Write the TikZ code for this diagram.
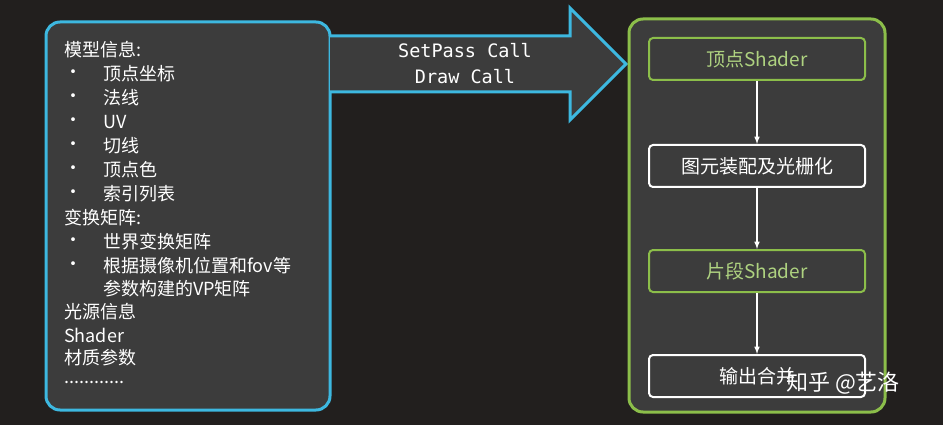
\documentclass[tikz,border=0pt]{standalone}
\usepackage{fontspec}
\setmainfont{Noto Sans CJK SC}
\setmonofont{DejaVu Sans Mono}
\usetikzlibrary{positioning}
\definecolor{bg}{HTML}{221F1E}
\definecolor{boxfill}{HTML}{3C3C3C}
\definecolor{cyanline}{HTML}{3DB8E0}
\definecolor{greenline}{HTML}{8CBE4A}
\tikzset{
  stage/.style={draw=white, line width=2pt, rounded corners=4pt, fill=boxfill,
    minimum width=216pt, minimum height=42pt, text=white, font=\fontsize{19}{22}\selectfont},
  shaderstage/.style={stage, draw=greenline, text=greenline!70!white},
  flow/.style={->, >=latex, draw=white, line width=1.5pt},
  info/.style={anchor=west, text=white, inner sep=0pt, font=\fontsize{18}{20}\selectfont}
}
\begin{document}
\begin{tikzpicture}[x=1pt,y=-1pt]
  \fill[bg] (0,0) rectangle (943,425);
  \useasboundingbox (0,0) rectangle (943,425);
  % left box
  \draw[cyanline, line width=3pt, fill=boxfill, rounded corners=14pt] (46,22) rectangle (330,410);
  % big arrow
  \draw[cyanline, line width=3pt, fill=boxfill, line join=miter]
    (330,36) -- (570,36) -- (570,8) -- (626,64) -- (570,120) -- (570,92) -- (330,92);
  \node[text=white, font=\ttfamily\fontsize{18.5}{26}\selectfont, align=center] (calls) at (465,64) {SetPass Call\\Draw Call};
  % right box
  \draw[greenline, line width=3pt, fill=boxfill, rounded corners=14pt] (629,19) rectangle (885,412);
  \node[shaderstage] (vs) at (757,59) {顶点Shader};
  \node[stage] (raster) at (757,166) {图元装配及光栅化};
  \node[shaderstage] (fs) at (757,271) {片段Shader};
  \node[stage] (merge) at (757,376) {输出合并};
  \draw[flow] (vs) -- (raster);
  \draw[flow] (raster) -- (fs);
  \draw[flow] (fs) -- (merge);
  % left text
  \node[info] (model) at (64,50) {模型信息:};
  \foreach \txt [count=\i] in {顶点坐标, 法线, UV, 切线, 顶点色, 索引列表}
    {\node[info] (b\i) at (64,{50+24*\i}) {•};
     \node[info] (t\i) at (103,{50+24*\i}) {\txt};}
  \node[info] (xform) at (64,218) {变换矩阵:};
  \node[info] (b7) at (64,242) {•};
  \node[info] (t7) at (103,242) {世界变换矩阵};
  \node[info] (b8) at (64,266) {•};
  \node[info] (t8) at (103,266) {根据摄像机位置和fov等};
  \node[info] (t9) at (103,289) {参数构建的VP矩阵};
  \node[info] (light) at (64,312) {光源信息};
  \node[info] (shader) at (64,335) {Shader};
  \node[info] (mat) at (64,358) {材质参数};
  \node[info] (etc) at (64,382) {............};
  \node[text=white, font=\fontsize{22}{24}\selectfont] (mark) at (843,383) {知乎 @艺洛};
\end{tikzpicture}
\end{document}
